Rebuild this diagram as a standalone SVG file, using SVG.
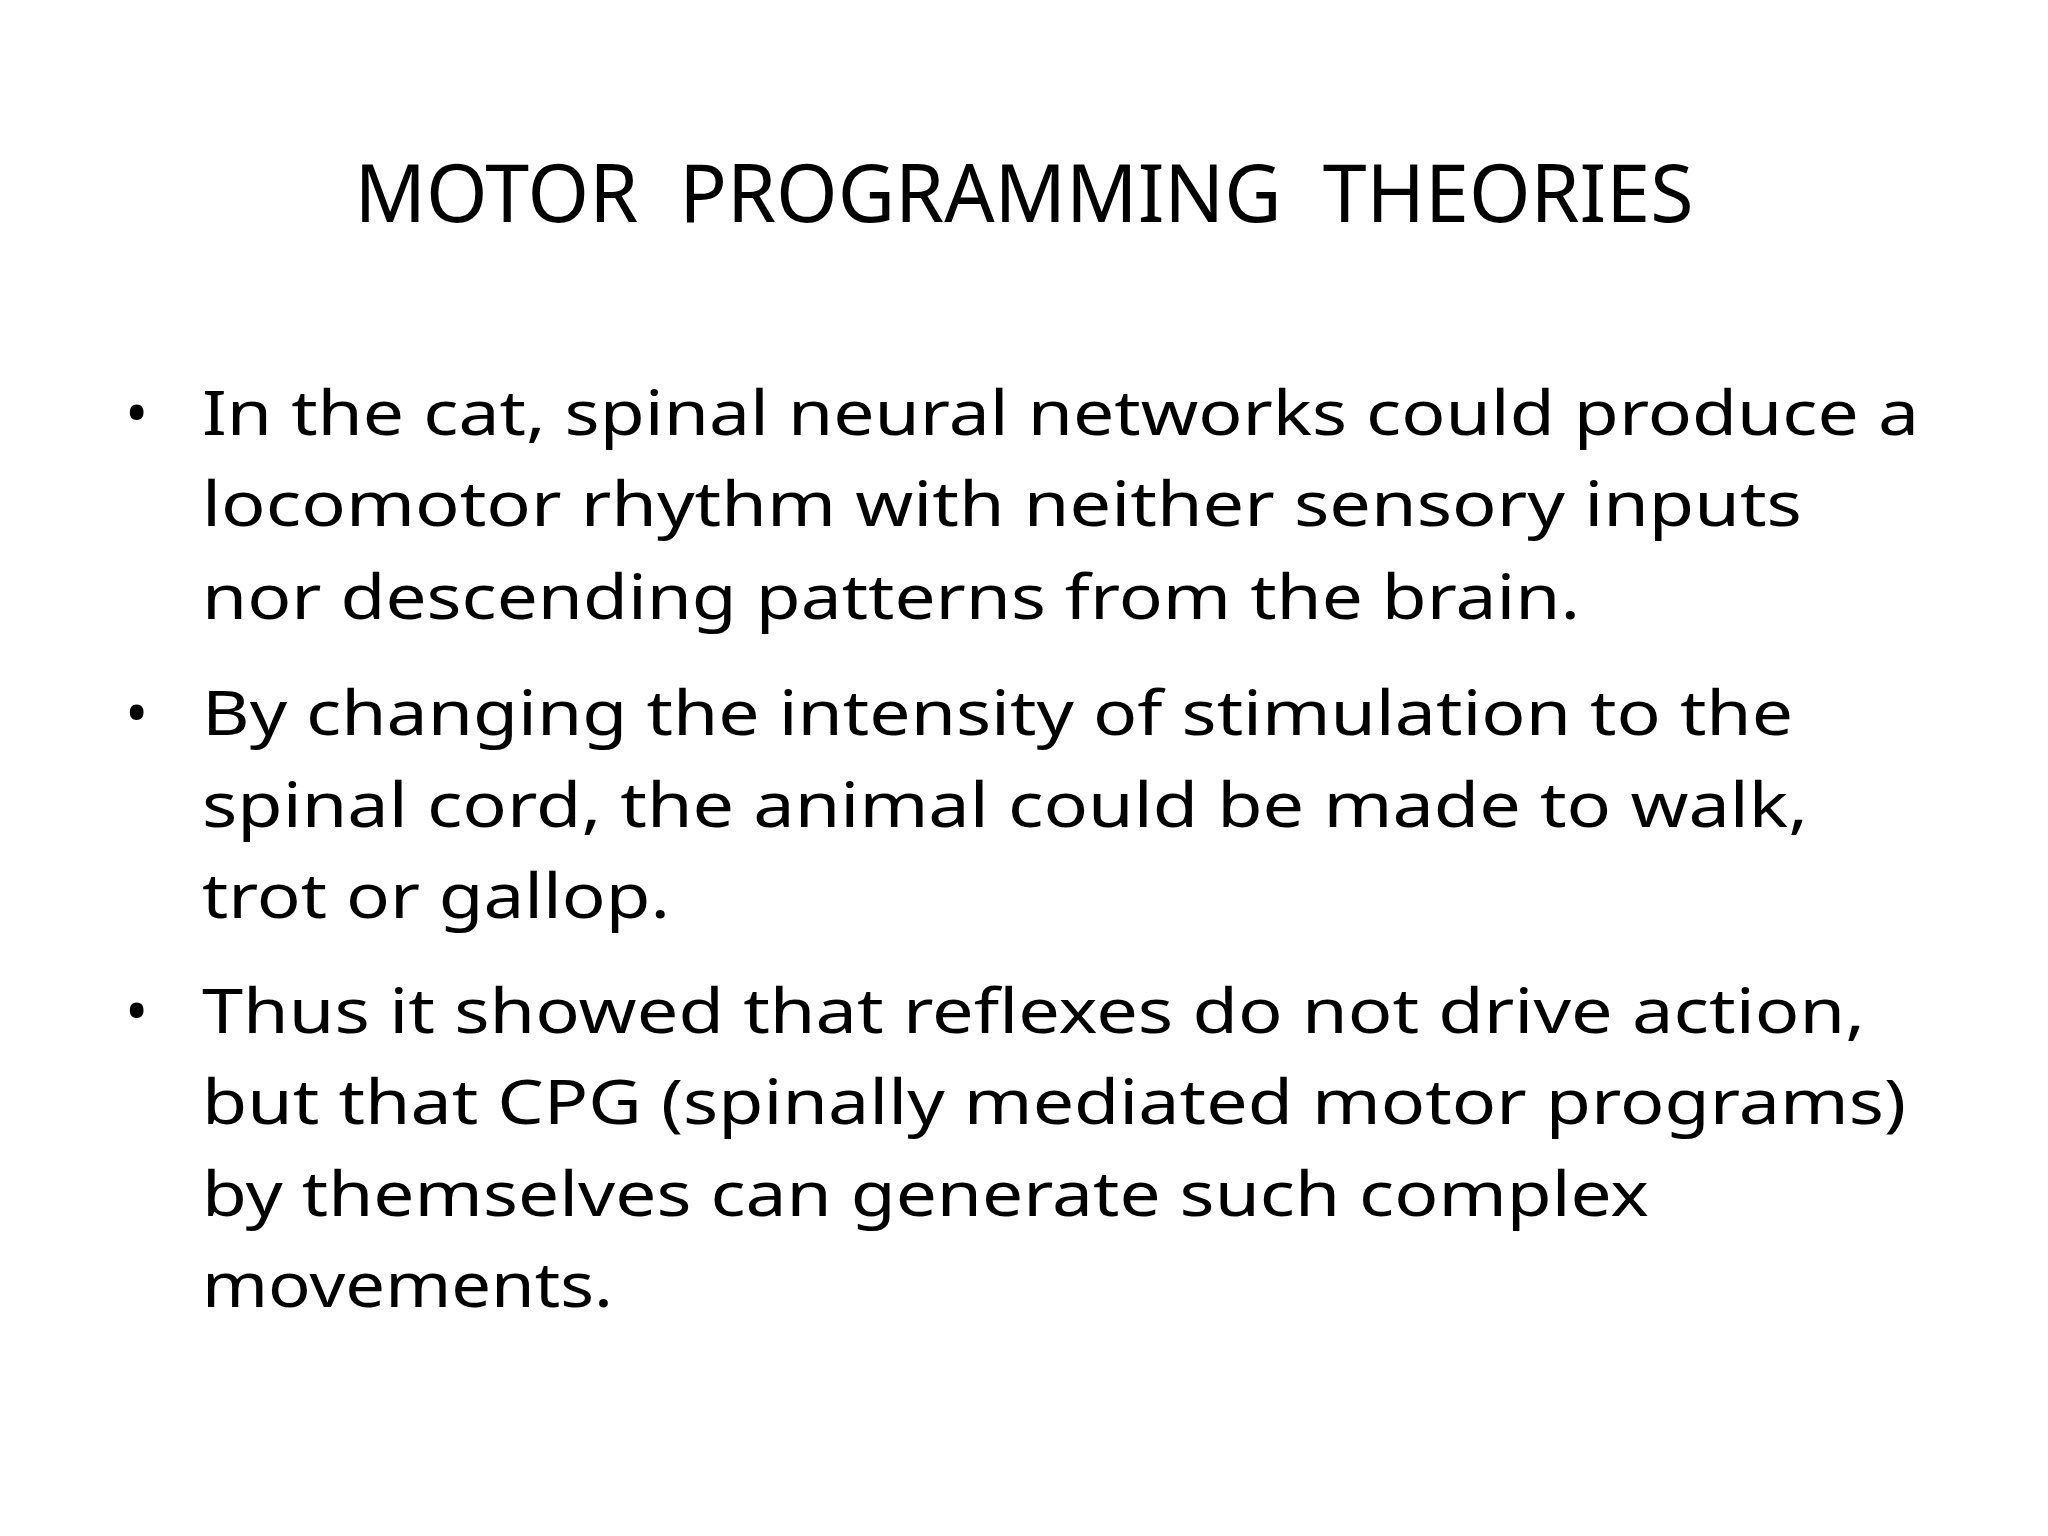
<svg xmlns="http://www.w3.org/2000/svg" width="2048" height="1536" viewBox="0 0 2048 1536">
<style>
.t{font-family:"Noto Sans","Open Sans",sans-serif;fill:#000}
.b{font-size:62px}
</style>
<rect width="2048" height="1536" fill="#fff"/>
<g id="title"><text class="t" x="1024" y="222" font-size="80" text-anchor="middle" textLength="1339" lengthAdjust="spacingAndGlyphs" xml:space="preserve">MOTOR  PROGRAMMING  THEORIES</text></g>
<g id="bullets" class="t b">
<text x="125" y="435">•</text>
<text x="125" y="735">•</text>
<text x="125" y="1033">•</text>
<text x="202" y="435" textLength="1717" lengthAdjust="spacingAndGlyphs">In the cat, spinal neural networks could produce a</text>
<text x="202" y="526" textLength="1600" lengthAdjust="spacingAndGlyphs">locomotor rhythm with neither sensory inputs</text>
<text x="202" y="619" textLength="1378" lengthAdjust="spacingAndGlyphs">nor descending patterns from the brain.</text>
<text x="202" y="735" textLength="1591" lengthAdjust="spacingAndGlyphs">By changing the intensity of stimulation to the</text>
<text x="202" y="827" textLength="1606" lengthAdjust="spacingAndGlyphs">spinal cord, the animal could be made to walk,</text>
<text x="202" y="918" textLength="468" lengthAdjust="spacingAndGlyphs">trot or gallop.</text>
<text x="202" y="1033" textLength="1663" lengthAdjust="spacingAndGlyphs">Thus it showed that reflexes do not drive action,</text>
<text x="202" y="1124" textLength="1704" lengthAdjust="spacingAndGlyphs">but that CPG (spinally mediated motor programs)</text>
<text x="202" y="1216" textLength="1447" lengthAdjust="spacingAndGlyphs">by themselves can generate such complex</text>
<text x="202" y="1307" textLength="411" lengthAdjust="spacingAndGlyphs">movements.</text>
</g>
</svg>
